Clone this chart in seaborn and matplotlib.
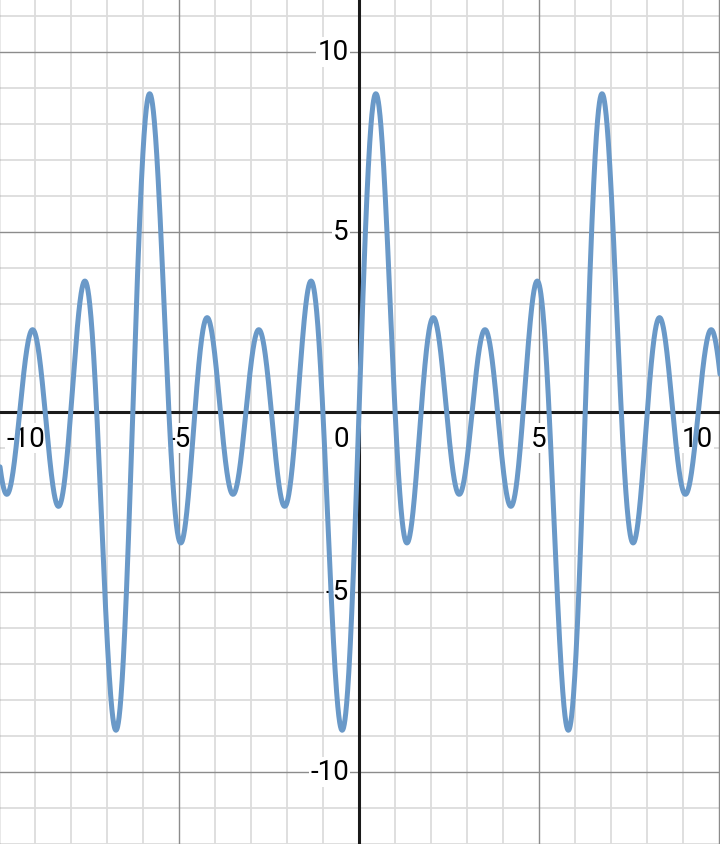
import numpy as np
import pandas as pd
import matplotlib
matplotlib.use("Agg")
import matplotlib.pyplot as plt
import seaborn as sns

# Curve: period 2*pi, odd, sum of four sine harmonics
harmonics = [1, 2, 3, 4]
amplitudes = [1, 2, 3, 4]

x_ticks = [-10, -5, 5, 10]
y_ticks = [-10, -5, 5, 10]
x_range = (-359 / 36, 361 / 36)
y_range = (-432 / 36, 413 / 36)

xs = np.linspace(x_range[0], x_range[1], 3000)
ys = sum(a * np.sin(k * xs) for k, a in zip(harmonics, amplitudes))
df = pd.DataFrame({"x": xs, "y": ys})

sns.set_style("white")
plt.rcParams["font.family"] = ["Roboto", "DejaVu Sans"]

fig = plt.figure(figsize=(7.2, 8.45), dpi=100)
ax = fig.add_axes([0, 0, 1, 1])
ax.set_xlim(*x_range)
ax.set_ylim(*y_range)

# grid: minor every 1, major every 5
for v in range(-10, 11):
    if v % 5 == 0:
        continue
    ax.axvline(v, color="#dcdcdc", lw=1.3, zorder=0)
for v in range(-12, 12):
    if v % 5 == 0:
        continue
    ax.axhline(v, color="#dcdcdc", lw=1.3, zorder=0)
for v in [-10, -5, 5, 10]:
    ax.axvline(v, color="#8c8c8c", lw=1.0, zorder=0.5)
    ax.axhline(v, color="#8c8c8c", lw=1.0, zorder=0.5)
ax.axvline(0, color="#1a1a1a", lw=2.2, zorder=1)
ax.axhline(0, color="#1a1a1a", lw=2.2, zorder=1)

sns.lineplot(data=df, x="x", y="y", ax=ax, color="#6a99c8", lw=3.6,
             zorder=3, estimator=None, sort=False)

box = dict(facecolor="white", edgecolor="none", pad=1.0)
# edge labels are pushed inside the view, like the reference
x_pos = {-10: -9.25, -5: -5, 5: 5, 10: 9.4}
for t in x_ticks:
    ax.text(x_pos[t], -0.35, str(t), ha="center", va="top",
            fontsize=20, color="black", bbox=box, zorder=2)
for t in y_ticks:
    ax.text(-0.28, t, str(t), ha="right", va="center",
            fontsize=20, color="black", bbox=box, zorder=2)
ax.text(-0.28, -0.35, "0", ha="right", va="top", fontsize=20,
        color="black", bbox=box, zorder=2)

ax.set_xticks([])
ax.set_yticks([])
ax.set_xlabel("")
ax.set_ylabel("")
for s in ax.spines.values():
    s.set_visible(False)

fig.savefig("out.png", dpi=100)
